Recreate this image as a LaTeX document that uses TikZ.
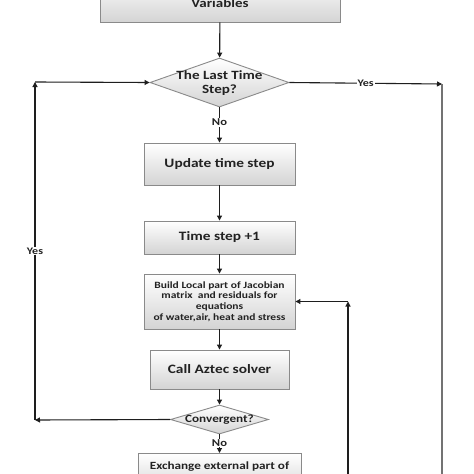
\documentclass[tikz,border=0pt]{standalone}
\usepackage{fontspec}
\setmainfont{Carlito}[FakeStretch=1.2]
\usetikzlibrary{shapes.geometric,arrows.meta}
\definecolor{txt}{HTML}{222222}
\definecolor{edge}{HTML}{8A8A8A}
\definecolor{ln}{HTML}{1E1E1E}
\tikzset{
  procbox/.style={rectangle, draw=edge, line width=0.9pt, top color=white, bottom color=black!17, text=txt, font=\bfseries, align=center, inner sep=0pt},
  decbox/.style={diamond, draw=edge, line width=0.9pt, top color=white, bottom color=black!17, inner sep=0pt},
  dectext/.style={text=txt, font=\bfseries, align=center, inner sep=0pt},
  flow/.style={draw=ln, line width=1.1pt, -{Triangle[width=5pt,length=5pt]}},
  greyline/.style={draw=black!55, line width=1.3pt},
  lbl/.style={text=txt, font=\bfseries, fill=white, inner sep=1pt}
}
\begin{document}
\begin{tikzpicture}[x=1pt,y=-1pt]
\useasboundingbox (0,0) rectangle (474,474);
\clip (0,0) rectangle (474,474);
\fill[white] (0,0) rectangle (474,474);
% boxes
\node[procbox, minimum width=240, minimum height=44, font=\bfseries\fontsize{12.5}{15}\selectfont] (init) at (220,0) {\\Variables};
\node[decbox, minimum width=139, minimum height=49] (d1) at (219.5,82.5) {};
\node[dectext, font=\bfseries\fontsize{12.6}{14}\selectfont] (d1t) at (219.5,83) {The Last Time\\Step?};
\node[procbox, minimum width=151, minimum height=42, font=\bfseries\fontsize{12.8}{14}\selectfont] (upd) at (219.5,164) {Update time step};
\node[procbox, minimum width=151, minimum height=33, font=\bfseries\fontsize{12.8}{14}\selectfont] (ts) at (219.5,237.5) {Time step +1};
\node[procbox, minimum width=151, minimum height=55, font=\bfseries\fontsize{9.6}{10.8}\selectfont] (build) at (219.5,301.5) {Build Local part of Jacobian\\matrix \ and residuals for\\equations\\of water,air, heat and stress};
\node[procbox, minimum width=139, minimum height=39, font=\bfseries\fontsize{12.8}{14}\selectfont] (aztec) at (219.5,369.5) {Call Aztec solver};
\node[decbox, minimum width=98, minimum height=29] (d2) at (219.5,419.5) {};
\node[dectext, font=\bfseries\fontsize{11}{12}\selectfont] (d2t) at (219.5,419.5) {Convergent?};
\node[procbox, minimum width=163, minimum height=40, font=\bfseries\fontsize{11}{14}\selectfont, anchor=north] (exch) at (219.5,453) {Exchange external part of\\increments and update};
% coordinates
\coordinate (L1) at (35,420);
\coordinate (L2) at (35,82);
\coordinate (R1) at (442,84);
\coordinate (R2) at (442,480);
\coordinate (F1) at (348,480);
\coordinate (F2) at (348,301.5);
% connectors
\draw[flow] (init) -- (d1);
\draw[flow] (d1) -- node[lbl, font=\bfseries\fontsize{10.5}{11}\selectfont, pos=0.42] {No} (upd);
\draw[flow] (upd) -- (ts);
\draw[flow] (ts) -- (build);
\draw[flow] (build) -- (aztec);
\draw[flow] (aztec) -- (d2);
\draw[flow] (d2) -- node[lbl, font=\bfseries\fontsize{10.5}{11}\selectfont, pos=0.45, inner sep=0.5pt] {No} (exch);
\draw[flow] (d2.west) -- (L1);
\draw[flow] (L1) -- node[lbl, font=\bfseries\fontsize{10}{11}\selectfont, pos=0.5] {Yes} (L2);
\draw[flow] (L2) -- (d1.west);
\draw[flow] (d1.east) -- node[lbl, font=\bfseries\fontsize{10}{11}\selectfont, pos=0.5] {Yes} (R1);
\draw[greyline] (R1) -- (R2);
\draw[flow] (F1) -- (F2);
\draw[flow] (F2) -- (build.east);
\end{tikzpicture}
\end{document}
